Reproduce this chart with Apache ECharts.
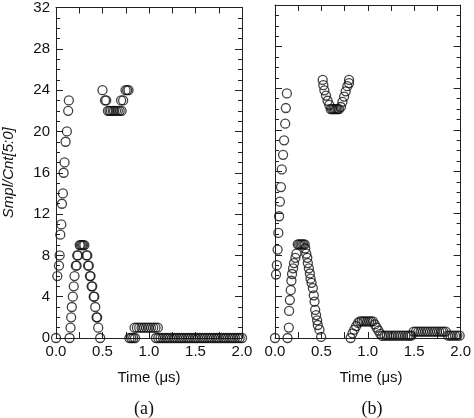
<!DOCTYPE html>
<html>
<head>
<meta charset="utf-8">
<script src="https://cdn.jsdelivr.net/npm/echarts@6/dist/echarts.min.js"></script>
<style>
  html, body { margin: 0; padding: 0; background: #fff; }
  #chart { width: 474px; height: 418px; }
</style>
</head>
<body>
<div id="chart"></div>
<script>
// 时间轴刻度 / 纵轴刻度
var timeTicks = ['0.0', '0.5', '1.0', '1.5', '2.0'];
var countTicks = [0, 4, 8, 12, 16, 20, 24, 28, 32];

// (a) 采样点：时间 (us) 与计数
var timeA = [
	0, 0.014, 0.032, 0.039, 0.046, 0.057, 0.064, 0.074, 0.082, 0.092, 0.103, 0.117, 0.131, 0.138,
	0.146, 0.156, 0.163, 0.170, 0.181, 0.191, 0.199, 0.213, 0.222, 0.228, 0.236, 0.255, 0.266, 0.280, 0.292, 0.305,
	0.327, 0.337, 0.345, 0.353, 0.365, 0.372, 0.383, 0.390, 0.405, 0.412, 0.422, 0.436, 0.443, 0.454, 0.475,
	0.500, 0.527, 0.540, 0.558, 0.575, 0.590, 0.610, 0.625, 0.645, 0.665, 0.685, 0.705, 0.700, 0.722, 0.748, 0.765, 0.780,
	0.790, 0.810, 0.830, 0.850,
	0.845, 0.870, 0.895, 0.920, 0.945, 0.970, 0.995, 1.020, 1.045, 1.070, 1.095,
	1.075, 1.100, 1.125, 1.150, 1.175, 1.200, 1.225, 1.250, 1.275, 1.300, 1.325, 1.350, 1.375, 1.400, 1.425, 1.450,
	1.475, 1.500, 1.525, 1.550, 1.575, 1.600, 1.625, 1.650, 1.675, 1.700, 1.725, 1.750, 1.775, 1.800, 1.825, 1.850,
	1.875, 1.900, 1.925, 1.950, 1.975, 2.000
];
var countA = [
	0, 6, 7, 8, 10, 11, 13, 14, 16, 17, 19, 20, 22, 23,
	0, 1, 2, 3, 4, 5, 6, 7, 7, 8, 8, 9, 9, 9, 9, 9,
	8, 8, 7, 7, 6, 6, 5, 5, 4, 4, 3, 2, 2, 1, 0,
	24, 23, 23, 22, 22, 22, 22, 22, 22, 22, 22, 22, 23, 23, 24, 24, 24,
	0, 0, 0, 0,
	1, 1, 1, 1, 1, 1, 1, 1, 1, 1, 1,
	0, 0, 0, 0, 0, 0, 0, 0, 0, 0, 0, 0, 0, 0, 0, 0,
	0, 0, 0, 0, 0, 0, 0, 0, 0, 0, 0, 0, 0, 0, 0, 0,
	0, 0, 0, 0, 0, 0
];

// (b) 采样点
var timeB = [
	0, 0.011, 0.020, 0.028, 0.036, 0.044, 0.053, 0.064, 0.073, 0.087, 0.098, 0.110, 0.117, 0.128,
	0.135, 0.149, 0.152, 0.160, 0.170, 0.177, 0.184, 0.195, 0.205, 0.220, 0.231,
	0.245, 0.260, 0.275, 0.290, 0.305, 0.320,
	0.326, 0.337, 0.348, 0.354, 0.365, 0.376, 0.383, 0.394, 0.408, 0.418, 0.426, 0.433, 0.443, 0.454, 0.461, 0.479,
	0.497, 0.514, 0.521, 0.532, 0.550, 0.567, 0.585, 0.600, 0.615, 0.630, 0.645, 0.660, 0.675,
	0.690, 0.710, 0.727, 0.745, 0.762, 0.780, 0.798,
	0.798, 0.815, 0.835, 0.855, 0.875, 0.895, 0.915, 0.935, 0.955, 0.975, 0.995, 1.015, 1.035,
	1.055, 1.075, 1.095, 1.115, 1.135,
	1.155, 1.180, 1.205, 1.230, 1.255, 1.280, 1.305, 1.330, 1.355, 1.380, 1.405, 1.430, 1.450,
	1.470, 1.495, 1.520, 1.545, 1.570, 1.595, 1.620, 1.645, 1.670, 1.695, 1.720, 1.745, 1.770, 1.795, 1.815,
	1.840, 1.865, 1.890, 1.915, 1.940, 1.965, 1.990
];
var countB = [
	0, 6.1, 7, 8.5, 10.1, 11.7, 13.1, 14.5, 16.2, 17.6, 19, 20.6, 22.1, 23.5,
	0, 1, 2.6, 3.65, 4.6, 5.5, 6.15, 6.7, 7.2, 7.7, 8.1,
	9, 9, 9, 9, 9, 9,
	8.6, 8.1, 7.7, 7.2, 6.7, 6.2, 5.7, 5.3, 4.8, 4.1, 3.5, 2.7, 2.2, 1.7, 1.25, 0.8, 0.1,
	24.8, 24.3, 23.8, 23.3, 22.8, 22.4, 22, 22, 22, 22, 22, 22, 22,
	22.2, 22.7, 23.2, 23.7, 24.2, 24.5, 24.8,
	0, 0.45, 0.8, 1.15, 1.45, 1.6, 1.6, 1.6, 1.6, 1.6, 1.6, 1.6, 1.6,
	1.3, 1.0, 0.7, 0.4, 0.2,
	0.22, 0.22, 0.22, 0.22, 0.22, 0.22, 0.22, 0.22, 0.22, 0.22, 0.22, 0.22, 0.22,
	0.62, 0.62, 0.62, 0.62, 0.62, 0.62, 0.62, 0.62, 0.62, 0.62, 0.62, 0.62, 0.62, 0.62, 0.62,
	0.22, 0.22, 0.22, 0.22, 0.22, 0.22, 0.22
];

var FONT = 'Liberation Sans, Arial, sans-serif';

function zip(t, v) {
	var out = [];
	for (var i = 0; i < t.length; i++) {
		out.push([t[i], v[i]]);
	}
	return out;
}

// 坐标轴（带内向刻度）
function makeX(grid, pos, showLabel) {
	return {
		type: 'value', gridIndex: grid, position: pos,
		min: 0, max: 2, interval: 0.5,
		axisLine: { show: true, onZero: false, lineStyle: { color: '#222', width: 1 } },
		axisTick: { show: true, inside: true, length: 6, lineStyle: { color: '#222' } },
		minorTick: { show: true, splitNumber: 2, length: 6, lineStyle: { color: '#222' } },
		splitLine: { show: false },
		axisLabel: {
			show: showLabel, margin: 6, fontSize: 15, color: '#111', fontFamily: FONT,
			formatter: function (v) { return timeTicks[Math.round(v / 0.5)]; }
		}
	};
}
function makeY(grid, pos, showLabel, name) {
	return {
		type: 'value', gridIndex: grid, position: pos,
		min: 0, max: 32, interval: 4,
		name: name || '', nameLocation: 'middle', nameGap: 40,
		nameTextStyle: { fontSize: 15, fontStyle: 'italic', color: '#111', fontFamily: FONT },
		axisLine: { show: true, onZero: false, lineStyle: { color: '#222', width: 1 } },
		axisTick: { show: true, inside: true, length: 7, lineStyle: { color: '#222' } },
		minorTick: { show: true, splitNumber: 4, length: 4, lineStyle: { color: '#222' } },
		splitLine: { show: false },
		axisLabel: {
			show: showLabel, margin: 6, fontSize: 15, color: '#111', fontFamily: FONT,
			formatter: function (v) { return countTicks.indexOf(v) >= 0 ? String(v) : ''; }
		}
	};
}

function scatter(xi, yi, data) {
	return {
		type: 'scatter', xAxisIndex: xi, yAxisIndex: yi,
		symbol: 'circle', symbolSize: 9, clip: false,
		itemStyle: { color: 'rgba(255,255,255,0)', borderColor: '#111', borderWidth: 1.3 },
		silent: true,
		data: data
	};
}

var chart = echarts.init(document.getElementById('chart'), null, { renderer: 'canvas' });

var option = {
	backgroundColor: '#fff',
	animation: false,
	grid: [
		{ left: 53, top: 5, width: 189, height: 333 },
		{ left: 275, top: 5, width: 188, height: 333 }
	],
	xAxis: [
		makeX(0, 'bottom', true),
		makeX(0, 'top', false),
		makeX(1, 'bottom', true),
		makeX(1, 'top', false)
	],
	yAxis: [
		makeY(0, 'left', true, 'Smpl/Cnt[5:0]'),
		makeY(0, 'right', false),
		makeY(1, 'left', false),
		makeY(1, 'right', false)
	],
	graphic: [
		{ type: 'text', x: 149, y: 378, style: { text: 'Time (\u03bcs)', font: '15px ' + FONT, fill: '#111', align: 'center', verticalAlign: 'middle' } },
		{ type: 'text', x: 371, y: 378, style: { text: 'Time (\u03bcs)', font: '15px ' + FONT, fill: '#111', align: 'center', verticalAlign: 'middle' } },
		{ type: 'text', x: 144, y: 409, style: { text: '(a)', font: '18px Liberation Serif, Times New Roman, serif', fill: '#111', align: 'center', verticalAlign: 'middle' } },
		{ type: 'text', x: 372, y: 409, style: { text: '(b)', font: '18px Liberation Serif, Times New Roman, serif', fill: '#111', align: 'center', verticalAlign: 'middle' } }
	],
	series: [
		scatter(0, 0, zip(timeA, countA)),
		scatter(2, 2, zip(timeB, countB))
	]
};

chart.setOption(option);
</script>
</body>
</html>
